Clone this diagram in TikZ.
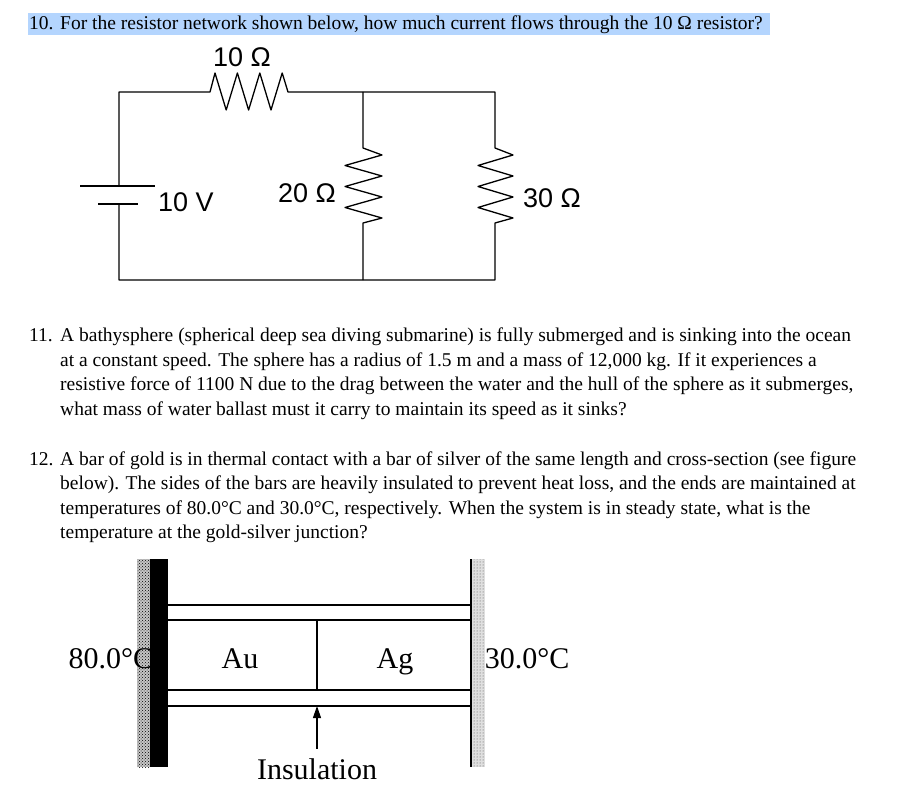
\documentclass[tikz,border=0pt]{standalone}
\usepackage{fontspec}
\setmainfont{Liberation Serif}
\newfontfamily\circfont{Liberation Sans}
\usepackage{xcolor}
\usetikzlibrary{positioning,arrows.meta,patterns}
\definecolor{hlblue}{RGB}{180,213,254}
\tikzset{
wire/.style={line width=1.3pt, line join=round},
qtext/.style={anchor=base west, inner sep=0pt, font=\fontsize{19.5}{22}\selectfont},
clabel/.style={anchor=base, inner sep=0pt, font=\circfont\fontsize{27}{30}\selectfont},
blabel/.style={anchor=base, inner sep=0pt, font=\fontsize{30}{32}\selectfont},
barline/.style={line width=1.2pt}
}

\begin{document}
\begin{tikzpicture}[x=1pt,y=-1pt]
\useasboundingbox[fill=white] (0,0) rectangle (909,802);

% question 10
\fill[hlblue] (28,13) rectangle (770,35);
\node[qtext] (n10) at (29,30) {10.};
\node[qtext] (q10) at (60,30) {For the resistor network shown below, how much current flows through the 10 Ω resistor?};

% circuit
\coordinate (A) at (119,92);
\coordinate (B) at (210,92);
\coordinate (C) at (288,92);
\coordinate (D) at (363,92);
\coordinate (E) at (495,92);
\coordinate (F) at (363,148);
\coordinate (G) at (363,223);
\coordinate (H) at (495,148);
\coordinate (I) at (495,223);
\coordinate (J) at (119,280);
\coordinate (K) at (363,280);
\coordinate (L) at (495,280);
\coordinate (P) at (119,186);
\coordinate (N) at (119,204);

\draw[wire] (P) -- (A) -- (B) -- ++(5,-19) \foreach \s in {1,-1,1,-1,1,-1}{-- ++(11.2,\s*37)} -- (C) -- (D) -- (E)
  -- (H) -- ++(18,7) \foreach \s in {-1,1,-1,1,-1,1}{-- ++(\s*35,10.5)} -- (I) -- (L) -- (K) -- (J) -- (N);
\draw[wire] (D) -- (F) -- ++(19,7) \foreach \s in {-1,1,-1,1,-1,1}{-- ++(\s*37,10.5)} -- (G) -- (K);
% battery
\draw[wire] ([xshift=-39pt]P) -- ([xshift=36pt]P);
\draw[wire] ([xshift=-21pt]N) -- ([xshift=19pt]N);

\node[clabel] (r1) at (242,67) {10 Ω};
\node[clabel] (bat) at (186,212) {10 V};
\node[clabel] (r2) at (307,203) {20 Ω};
\node[clabel] (r3) at (552,208) {30 Ω};

% question 11
\node[qtext] (n11) at (29,341) {11.};
\node[qtext] (q11a) at (60,341) {A bathysphere (spherical deep sea diving submarine) is fully submerged and is sinking into the ocean};
\node[qtext] (q11b) at (60,366) {at a constant speed. The sphere has a radius of 1.5 m and a mass of 12,000 kg. If it experiences a};
\node[qtext] (q11c) at (60,390) {resistive force of 1100 N due to the drag between the water and the hull of the sphere as it submerges,};
\node[qtext] (q11d) at (60,415) {what mass of water ballast must it carry to maintain its speed as it sinks?};

% question 12
\node[qtext] (n12) at (29,465) {12.};
\node[qtext] (q12a) at (60,465) {A bar of gold is in thermal contact with a bar of silver of the same length and cross-section (see figure};
\node[qtext] (q12b) at (60,489) {below). The sides of the bars are heavily insulated to prevent heat loss, and the ends are maintained at};
\node[qtext] (q12c) at (60,514) {temperatures of 80.0°C and 30.0°C, respectively. When the system is in steady state, what is the};
\node[qtext] (q12d) at (60,538) {temperature at the gold-silver junction?};

% bars
\fill[gray!45] (137,559) rectangle (150,767);
\fill[pattern=crosshatch dots, pattern color=black] (137,559) rectangle (150,767);
\fill[black] (150,559) rectangle (168,767);
\fill[gray!25] (472,559) rectangle (485,767);
\fill[pattern=dots, pattern color=black!70] (472,559) rectangle (485,767);
\draw[line width=1.6pt] (471,559) -- (471,767);

\coordinate (S1) at (168,605);
\coordinate (S2) at (471,605);
\coordinate (S3) at (168,620);
\coordinate (S4) at (471,620);
\coordinate (S5) at (168,690);
\coordinate (S6) at (471,690);
\coordinate (S7) at (168,706);
\coordinate (S8) at (471,706);
\coordinate (J1) at (317,620);
\coordinate (J2) at (317,690);
\coordinate (J3) at (317,706);
\foreach \a/\b in {S1/S2, S3/S4, S5/S6, S7/S8, J1/J2}{
	\draw[barline] (\a) -- (\b);
}

\node[blabel] (t1) at (111,668) {80.0°C};
\node[blabel] (au) at (240,668) {Au};
\node[blabel] (ag) at (395,668) {Ag};
\node[blabel] (t2) at (527,668) {30.0°C};
\node[blabel] (ins) at (317,779) {Insulation};
\draw[barline,-{Triangle[width=8pt,length=12pt]}] ([yshift=9pt]ins.north) -- (J3);
\end{tikzpicture}
\end{document}
